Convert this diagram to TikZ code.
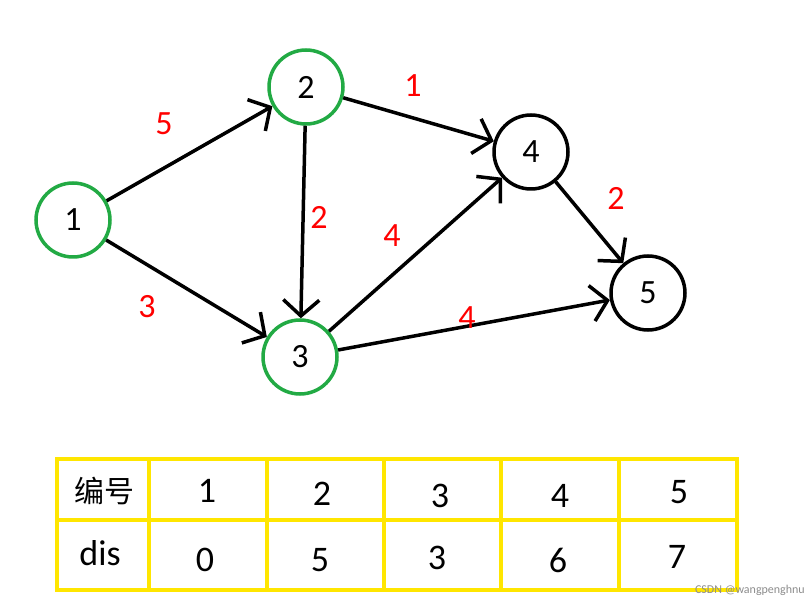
\documentclass[tikz,border=0pt]{standalone}
\usepackage{fontspec}
\setmainfont{Carlito}
\newfontfamily\cjk{Noto Sans CJK SC}
\usetikzlibrary{arrows.meta}
\begin{document}
\begin{tikzpicture}[x=1pt,y=-1pt,
  vtx/.style={circle,draw,line width=3.5pt,minimum size=74pt,inner sep=0pt,font=\fontsize{34}{34}\selectfont},
  gv/.style={vtx,draw={rgb,255:red,34;green,170;blue,68}},
  bv/.style={vtx,draw=black},
  edge/.style={line width=3.5pt,-{Straight Barb[length=16pt,width=36pt,line width=3.5pt]}},
  wt/.style={text=red,font=\fontsize{34}{34}\selectfont},
  cell/.style={font=\fontsize{36}{36}\selectfont}]
\useasboundingbox (0,0) rectangle (809,601);
\node[gv] (n1) at (73,220) {1};
\node[gv] (n2) at (306,87) {2};
\node[gv] (n3) at (300,357) {3};
\node[bv] (n4) at (531,152) {4};
\node[bv] (n5) at (648,293) {5};
\draw[edge] (n1) -- (n2);
\draw[edge] (n1) -- (n3);
\draw[edge] (n2) -- (n3);
\draw[edge] (n2) -- (n4);
\draw[edge] (n3) -- (n4);
\draw[edge] (n3) -- (n5);
\draw[edge] (n4) -- (n5);
\node[wt] (w12) at (164,124) {5};
\node[wt] (w13) at (147,307) {3};
\node[wt] (w23) at (319,217) {2};
\node[wt] (w24) at (413,86) {1};
\node[wt] (w34) at (392,236) {4};
\node[wt] (w35) at (467,318) {4};
\node[wt] (w45) at (616,198) {2};
\draw[line width=3.5pt,draw={rgb,255:red,255;green,230;blue,0}]
  (57,459) rectangle (737,590)
  (57,520) -- (737,520)
  (149,459) -- (149,590) (267,459) -- (267,590) (384,459) -- (384,590)
  (501,459) -- (501,590) (619,459) -- (619,590);
\node[cell] (h0) at (104,491) {\cjk\fontsize{30}{30}\selectfont 编号};
\node[cell] (h1) at (207,491) {1};
\node[cell] (h2) at (322,494) {2};
\node[cell] (h3) at (440,496) {3};
\node[cell] (h4) at (560,496) {4};
\node[cell] (h5) at (679,492) {5};
\node[cell] (d0) at (100,553) {dis};
\node[cell] (d1) at (205,560) {0};
\node[cell] (d2) at (320,560) {5};
\node[cell] (d3) at (437,558) {3};
\node[cell] (d4) at (558,560) {6};
\node[cell] (d5) at (677,557) {7};
\node[text=black!45,font=\fontsize{12}{12}\selectfont,anchor=east,inner sep=1pt] (wm) at (806,590) {CSDN @wangpenghnu};
\end{tikzpicture}
\end{document}
